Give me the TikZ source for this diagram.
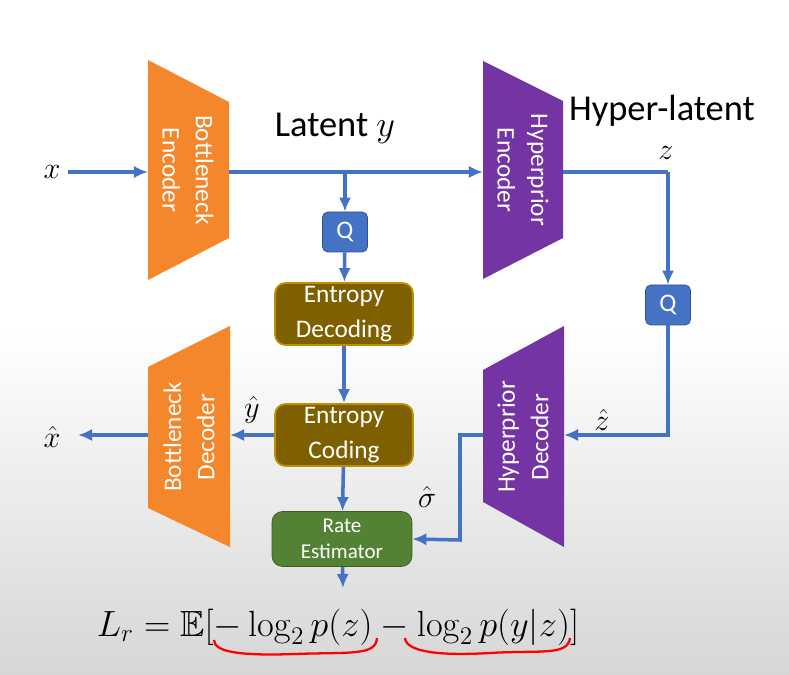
\documentclass[tikz,border=0pt]{standalone}
\usepackage{amsmath,amssymb}
\usepackage[no-math]{fontspec}
\setmainfont{Carlito}
\usetikzlibrary{arrows.meta}
\definecolor{aro}{HTML}{4472C4}
\definecolor{org}{HTML}{F4862C}
\definecolor{pur}{HTML}{7434A4}
\definecolor{brn}{HTML}{7F6000}
\definecolor{gld}{HTML}{BF9000}
\definecolor{grn}{HTML}{548235}
\begin{document}
\begin{tikzpicture}[x=0.02cm,y=-0.02cm,
  ar/.style={draw=aro,line width=2pt,-{Latex[length=8pt,width=7pt]}},
  ln/.style={draw=aro,line width=2pt},
  qb/.style={fill=aro,draw=aro!70!black,rounded corners=3pt,minimum width=0.9cm,minimum height=0.8cm,text=white,font=\Large},
  eb/.style={fill=brn,draw=gld,line width=1pt,rounded corners=6pt,minimum width=2.76cm,minimum height=1.24cm,text=white,font=\Large,align=center,text width=2.6cm,inner sep=0pt},
  lab/.style={text=white,font=\Large,align=center}]
\shade[top color=white,bottom color=white] (0,0) rectangle (789,330);
\shade[top color=white,bottom color=black!16] (0,330) rectangle (789,675);
\useasboundingbox (0,0) rectangle (789,675);
% trapezoids
\fill[org] (148,60) -- (229,102) -- (229,238) -- (148,280) -- cycle;
\node[lab,rotate=-90] (be) at (188,170) {Bottleneck\\[1pt]Encoder};
\fill[pur] (483,61) -- (563,101) -- (563,238) -- (483,279) -- cycle;
\node[lab,rotate=-90] (he) at (523,170) {Hyperprior\\[1pt]Encoder};
\fill[org] (148,367) -- (230,326) -- (230,547) -- (148,508) -- cycle;
\node[lab,rotate=90] (bd) at (189,437) {Bottleneck\\[1pt]Decoder};
\fill[pur] (483,370) -- (564,326) -- (564,547) -- (483,502) -- cycle;
\node[lab,rotate=90] (hd) at (523,437) {Hyperprior\\[1pt]Decoder};
% coordinates
\coordinate (bel) at (148,172); \coordinate (ber) at (229,172);
\coordinate (hel) at (483,172); \coordinate (her) at (563,172);
\coordinate (bdl) at (148,435); \coordinate (bdr) at (230,435);
\coordinate (hdl) at (483,435); \coordinate (hdr) at (564,435);
\coordinate (br) at (345,172); \coordinate (zc) at (668,172);
\coordinate (zd) at (668,435); \coordinate (sc) at (460,435); \coordinate (sd) at (460,540);
\coordinate (xin) at (68,172); \coordinate (xout) at (78,435); \coordinate (lend) at (343,588);
% boxes
\node[qb] (q1) at (345,232) {Q};
\node[qb] (q2) at (668,305) {Q};
\node[eb] (ed) at (344,314) {Entropy\\[2pt]Decoding};
\node[eb] (ec) at (344,435) {Entropy\\[2pt]Coding};
\node[fill=grn,draw=grn!70!black,rounded corners=6pt,minimum width=2.8cm,minimum height=1.1cm,text=white,font=\large,align=center] (re) at (342,539) {Rate\\[1pt]Estimator};
% connectors
\draw[ar] (xin) -- (bel);
\draw[ar] (ber) -- (hel);
\draw[ar] (br) -- (q1);
\draw[ar] (q1) -- (ed);
\draw[ar] (ed) -- (ec);
\draw[ar] (ec) -- (re);
\draw[ar] (re) -- (lend);
\draw[ln] (her) -- (zc);
\draw[ar] (zc) -- (q2);
\draw[ar] (q2) -- (zd) -- (hdr);
\draw[ar] (hdl) -- (sc) -- (sd) -- (re.east);
\draw[ar] (ec.west) -- (bdr);
\draw[ar] (bdl) -- (xout);
% labels
\node[font=\LARGE] (lx) at (52,172) {$x$};
\node[font=\LARGE] (lxh) at (52,437) {$\hat{x}$};
\node[font=\huge] (ly) at (335,128) {Latent $y$};
\node[font=\huge] (hl) at (662,111) {Hyper-latent};
\node[font=\LARGE] (lz) at (666,153) {$z$};
\node[font=\LARGE] (lzh) at (602,420) {$\hat{z}$};
\node[font=\LARGE] (lyh) at (252,410) {$\hat{y}$};
\node[font=\LARGE] (ls) at (427,497) {$\hat{\sigma}$};
\node[font=\huge] (form) at (338,627) {$L_r=\mathbb{E}[-\log_2 p(z)-\log_2 p(y|z)]$};
% red braces
\draw[red,line width=1.3pt] (214,640) .. controls (214,652) and (240,656) .. (295,654) .. controls (350,652) and (376,656) .. (377,638);
\draw[red,line width=1.3pt] (405,638) .. controls (406,652) and (440,656) .. (490,653) .. controls (540,650) and (568,656) .. (570,638);
\end{tikzpicture}
\end{document}
